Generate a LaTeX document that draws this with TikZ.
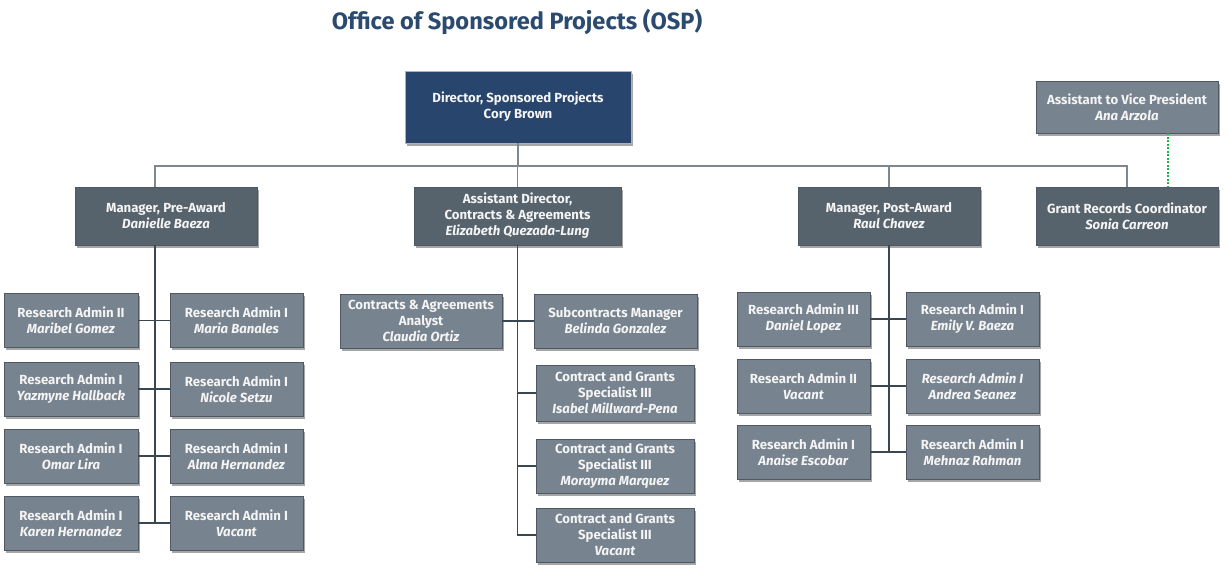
\documentclass[tikz,border=0pt]{standalone}
\usepackage{fontspec}
\setmainfont{Fira Sans}
\usetikzlibrary{shadows}
\definecolor{titleblue}{HTML}{2B4A6F}
\definecolor{dirfill}{HTML}{27456D}
\definecolor{darkfill}{HTML}{56626C}
\definecolor{lightfill}{HTML}{77838F}
\definecolor{boxline}{HTML}{4E5963}
\definecolor{conndark}{HTML}{3A4650}
\definecolor{conntop}{HTML}{7D878F}
\definecolor{dotgreen}{HTML}{1FB24A}
\definecolor{txt}{HTML}{F4F4F4}
\tikzset{
  base/.style={draw=boxline, line width=0.8pt, text=txt, align=center, inner sep=0pt,
     font=\fontsize{13.2}{16}\selectfont\bfseries,
     drop shadow={shadow xshift=2pt, shadow yshift=-2.5pt, opacity=0.35, fill=black}},
  dirbox/.style={base, fill=dirfill, draw=gray!60},
  mgr/.style={base, fill=darkfill},
  staff/.style={base, fill=lightfill},
  conn/.style={draw=conndark, line width=1.8pt},
  topconn/.style={draw=conntop, line width=1.5pt},
  dotl/.style={draw=dotgreen, line width=2pt, dash pattern=on 2pt off 1.5pt}
}
\newcommand{\nm}[1]{\textit{#1}}
\begin{document}
\begin{tikzpicture}[x=1pt,y=-1pt]
\useasboundingbox[fill=white] (0,0) rectangle (1228,574);
\node[font=\fontsize{23.6}{26}\selectfont\bfseries, text=titleblue] (title) at (517,22) {Office of Sponsored Projects (OSP)};

\node[dirbox, minimum width=226pt, minimum height=72pt] (dir) at (518,107) {Director, Sponsored Projects\\Cory Brown};
\node[staff, minimum width=182pt, minimum height=52pt] (avp) at (1127,107) {Assistant to Vice President\\\nm{Ana Arzola}};

\node[mgr, minimum width=182pt, minimum height=58pt] (pre) at (166,216) {Manager, Pre-Award\\\nm{Danielle Baeza}};
\node[mgr, minimum width=207pt, minimum height=58pt] (ad) at (517.5,216) {Assistant Director,\\Contracts \& Agreements\\\nm{Elizabeth Quezada-Lung}};
\node[mgr, minimum width=182pt, minimum height=58pt] (post) at (889,216) {Manager, Post-Award\\\nm{Raul Chavez}};
\node[mgr, minimum width=182pt, minimum height=58pt] (grc) at (1127,216) {Grant Records Coordinator\\\nm{Sonia Carreon}};

% Pre-award staff
\node[staff, minimum width=134pt, minimum height=54pt] (p11) at (71,320.5) {Research Admin II\\\nm{Maribel Gomez}};
\node[staff, minimum width=133pt, minimum height=54pt] (p12) at (236.5,320.5) {Research Admin I\\\nm{Maria Banales}};
\node[staff, minimum width=134pt, minimum height=54pt] (p21) at (71,389) {Research Admin I\\\nm{Yazmyne Hallback}};
\node[staff, minimum width=133pt, minimum height=54pt] (p22) at (236.5,389) {Research Admin I\\\nm{Nicole Setzu}};
\node[staff, minimum width=134pt, minimum height=54pt] (p31) at (71,456) {Research Admin I\\\nm{Omar Lira}};
\node[staff, minimum width=133pt, minimum height=54pt] (p32) at (236.5,456) {Research Admin I\\\nm{Alma Hernandez}};
\node[staff, minimum width=134pt, minimum height=54pt] (p41) at (71,523) {Research Admin I\\\nm{Karen Hernandez}};
\node[staff, minimum width=133pt, minimum height=54pt] (p42) at (236.5,523) {Research Admin I\\\nm{Vacant}};

% Contracts staff
\node[staff, minimum width=162pt, minimum height=54pt] (caa) at (421,321) {Contracts \& Agreements\\Analyst\\\nm{Claudia Ortiz}};
\node[staff, minimum width=163pt, minimum height=54pt] (subm) at (615.5,321) {Subcontracts Manager\\\nm{Belinda Gonzalez}};
\node[staff, minimum width=158pt, minimum height=56pt] (c1) at (615,393) {Contract and Grants\\Specialist III\\\nm{Isabel Millward-Pena}};
\node[staff, minimum width=158pt, minimum height=54pt] (c2) at (615,466) {Contract and Grants\\Specialist III\\\nm{Morayma Marquez}};
\node[staff, minimum width=158pt, minimum height=54pt] (c3) at (615,535) {Contract and Grants\\Specialist III\\\nm{Vacant}};

% Post-award staff
\node[staff, minimum width=133pt, minimum height=54pt] (q11) at (803.5,319) {Research Admin III\\\nm{Daniel Lopez}};
\node[staff, minimum width=133pt, minimum height=54pt] (q12) at (972.5,319) {Research Admin I\\\nm{Emily V. Baeza}};
\node[staff, minimum width=133pt, minimum height=54pt] (q21) at (803.5,386) {Research Admin II\\\nm{Vacant}};
\node[staff, minimum width=133pt, minimum height=54pt] (q22) at (972.5,386) {\nm{Research Admin I}\\\nm{Andrea Seanez}};
\node[staff, minimum width=133pt, minimum height=54pt] (q31) at (803.5,452) {Research Admin I\\\nm{Anaise Escobar}};
\node[staff, minimum width=133pt, minimum height=54pt] (q32) at (972.5,452) {Research Admin I\\\nm{Mehnaz Rahman}};

% coordinates
\coordinate (bus) at (518,166);
\coordinate (pspine) at (155,0);
\coordinate (gx) at (1168,0);

% connectors
\draw[topconn] (dir.south) -- (bus);
\draw[topconn] (pre.north -| pspine) -- (pspine |- bus) -- (bus -| grc.north) -- (grc.north);
\draw[topconn] (ad.north) -- (ad.north |- bus);
\draw[topconn] (post.north) -- (post.north |- bus);
\draw[dotl] (avp.south -| gx) -- (grc.north -| gx);

\draw[conn] (pre.south -| pspine) -- (pspine |- p42.west);
\draw[conn] (p11.east) -- (p12.west);
\draw[conn] (p21.east) -- (p22.west);
\draw[conn] (p31.east) -- (p32.west);
\draw[conn] (p41.east) -- (p42.west);

\draw[conn] (ad.south) -- (ad.south |- c3.west) -- (c3.west);
\draw[conn] (caa.east) -- (subm.west);
\draw[conn] (ad.south |- c1.west) -- (c1.west);
\draw[conn] (ad.south |- c2.west) -- (c2.west);

\draw[conn] (post.south) -- (post.south |- q31.east);
\draw[conn] (q11.east) -- (q12.west);
\draw[conn] (q21.east) -- (q22.west);
\draw[conn] (q31.east) -- (q32.west);
\end{tikzpicture}
\end{document}
